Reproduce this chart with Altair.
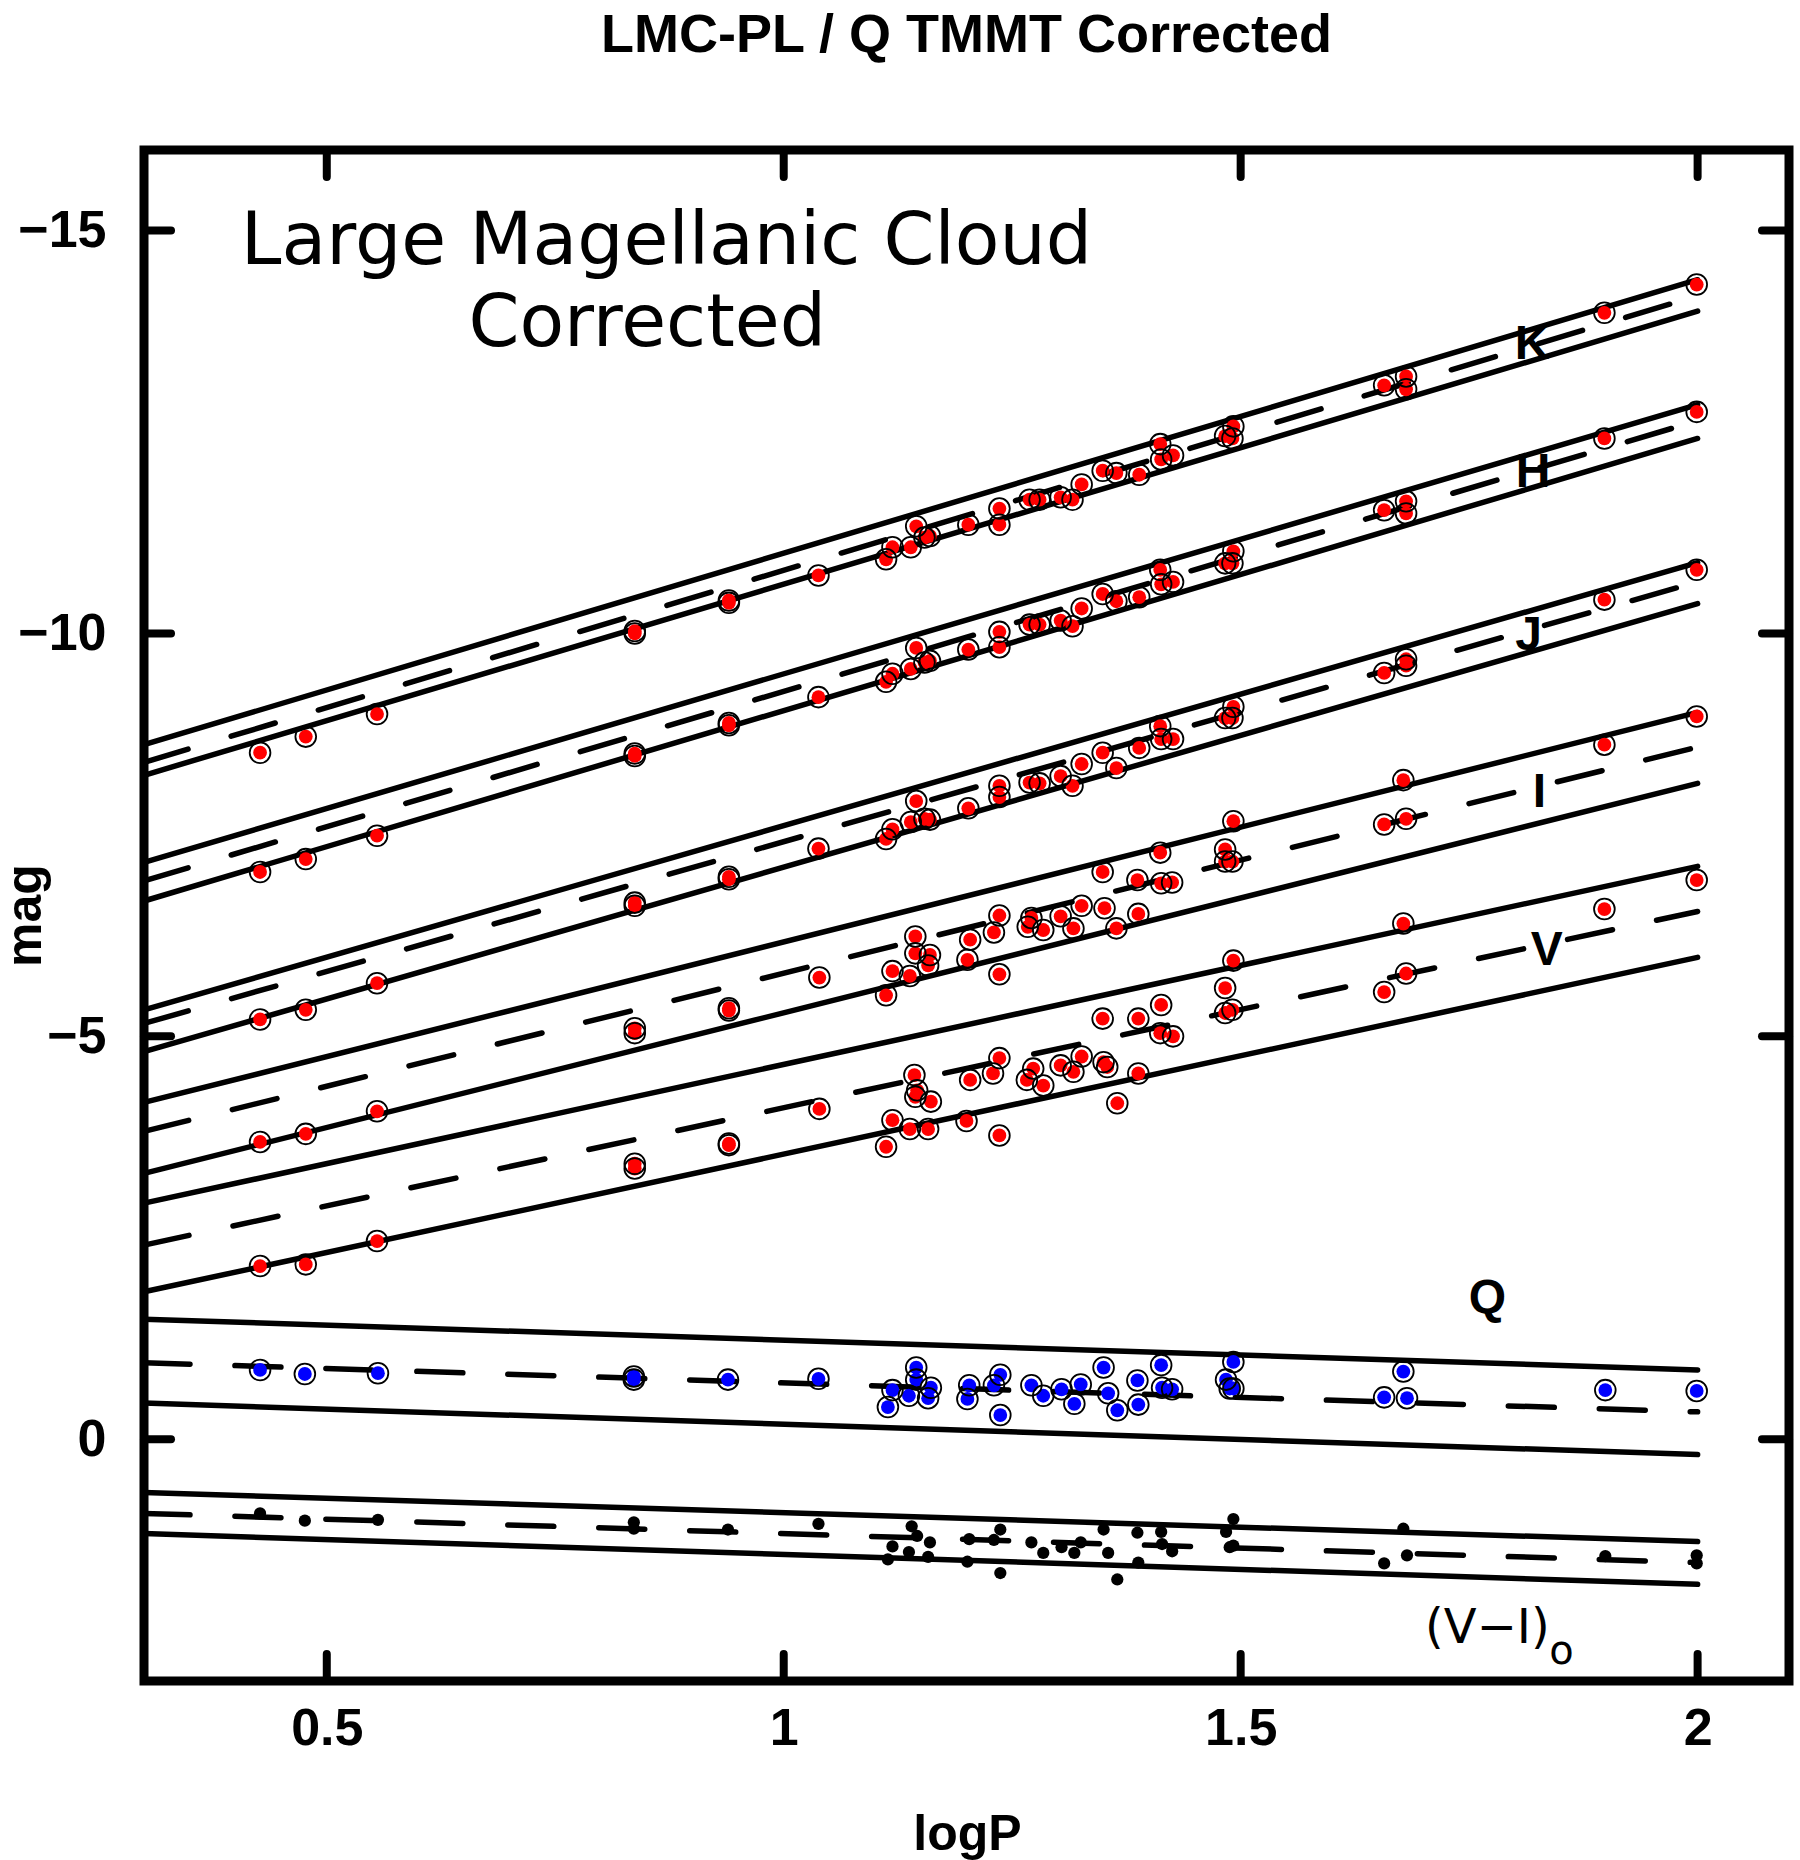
import altair as alt
import pandas as pd

# ---------------- data ----------------
TITLE = ["LMC-PL / Q TMMT Corrected"]
X_TICKS = [0.5, 1.0, 1.5, 2.0]
Y_TICKS = [-15, -10, -5, 0]
X_DOMAIN = [0.3, 2.1]
Y_DOMAIN = [-16, 3]

K_logP = [0.427, 0.477, 0.555, 0.837, 0.837, 0.940, 0.940, 1.038, 1.112, 1.119, 1.139, 1.145,
          1.154, 1.160, 1.202, 1.236, 1.236, 1.269, 1.280, 1.303, 1.316, 1.326, 1.349, 1.364,
          1.389, 1.412, 1.413, 1.426, 1.483, 1.492, 1.491, 1.657, 1.681, 1.681, 1.898, 1.999]
K_mag = [-8.52, -8.72, -9.00, -10.03, -10.00, -10.41, -10.38, -10.72, -10.92, -11.07, -11.07, -11.33,
         -11.19, -11.21, -11.35, -11.55, -11.35, -11.66, -11.66, -11.69, -11.66, -11.85, -12.02, -11.99,
         -11.97, -12.35, -12.16, -12.21, -12.45, -12.57, -12.42, -13.08, -13.19, -13.03, -13.98, -14.33]

H_logP = K_logP
H_mag = [-7.04, -7.20, -7.49, -8.51, -8.48, -8.89, -8.86, -9.21, -9.40, -9.50, -9.56, -9.82,
         -9.64, -9.66, -9.80, -10.02, -9.83, -10.11, -10.11, -10.16, -10.09, -10.31, -10.49, -10.40,
         -10.45, -10.79, -10.61, -10.64, -10.87, -11.02, -10.87, -11.53, -11.64, -11.49, -12.42, -12.75]

J_logP = K_logP
J_mag = [-5.21, -5.33, -5.66, -6.62, -6.66, -6.98, -6.95, -7.33, -7.45, -7.57, -7.66, -7.92,
         -7.70, -7.69, -7.83, -8.11, -7.97, -8.15, -8.14, -8.23, -8.11, -8.38, -8.52, -8.33,
         -8.58, -8.85, -8.69, -8.69, -8.95, -9.09, -8.95, -9.51, -9.68, -9.60, -10.42, -10.79]

I_logP = [0.427, 0.477, 0.555, 0.837, 0.837, 0.940, 0.940, 1.039, 1.112, 1.119, 1.138, 1.144,
          1.144, 1.160, 1.158, 1.201, 1.204, 1.230, 1.236, 1.236, 1.267, 1.271, 1.284, 1.303,
          1.317, 1.326, 1.351, 1.349, 1.364, 1.387, 1.388, 1.412, 1.413, 1.425, 1.483, 1.492,
          1.491, 1.483, 1.657, 1.681, 1.678, 1.898, 1.999]
I_mag = [-3.69, -3.79, -4.07, -5.04, -5.10, -5.35, -5.32, -5.73, -5.51, -5.81, -5.75, -6.24,
         -6.03, -6.01, -5.88, -5.95, -6.20, -6.29, -6.50, -5.77, -6.36, -6.47, -6.32, -6.49,
         -6.34, -6.62, -6.59, -7.04, -6.34, -6.94, -6.52, -7.28, -6.90, -6.91, -7.32, -7.67,
         -7.17, -7.17, -7.63, -7.70, -8.18, -8.62, -8.97]

V_logP = [0.427, 0.477, 0.555, 0.837, 0.837, 0.940, 0.940, 1.039, 1.112, 1.119, 1.138, 1.158,
          1.143, 1.146, 1.144, 1.161, 1.200, 1.204, 1.229, 1.236, 1.236, 1.266, 1.273, 1.284,
          1.303, 1.317, 1.326, 1.350, 1.354, 1.365, 1.388, 1.349, 1.388, 1.413, 1.412, 1.426,
          1.483, 1.492, 1.483, 1.491, 1.657, 1.681, 1.678, 1.898, 1.999]
V_mag = [-2.15, -2.17, -2.46, -3.36, -3.42, -3.65, -3.67, -4.10, -3.63, -3.96, -3.85, -3.85,
         -4.52, -4.33, -4.25, -4.19, -3.95, -4.46, -4.54, -4.73, -3.77, -4.46, -4.60, -4.39,
         -4.64, -4.56, -4.75, -4.68, -4.62, -4.17, -4.54, -5.22, -5.22, -5.39, -5.04, -5.00,
         -5.60, -5.94, -5.29, -5.33, -5.55, -5.78, -6.40, -6.58, -6.94]

Q_logP = [0.427, 0.476, 0.556, 0.836, 0.836, 0.939, 1.038, 1.114, 1.119, 1.145, 1.145, 1.137,
          1.161, 1.158, 1.201, 1.203, 1.230, 1.237, 1.237, 1.271, 1.284, 1.304, 1.318, 1.325,
          1.350, 1.355, 1.365, 1.387, 1.388, 1.413, 1.414, 1.425, 1.484, 1.488, 1.492, 1.492,
          1.657, 1.678, 1.682, 1.899, 1.999]
Q_mag = [-0.86, -0.81, -0.82, -0.78, -0.74, -0.74, -0.75, -0.40, -0.61, -0.89, -0.74, -0.54,
         -0.64, -0.51, -0.50, -0.67, -0.67, -0.80, -0.30, -0.67, -0.54, -0.62, -0.44, -0.68,
         -0.89, -0.57, -0.36, -0.73, -0.43, -0.92, -0.64, -0.62, -0.74, -0.63, -0.96, -0.63,
         -0.52, -0.84, -0.51, -0.61, -0.60]

VI_logP = [0.427, 0.476, 0.556, 0.836, 0.836, 0.939, 1.038, 1.114, 1.119, 1.140, 1.137, 1.146,
           1.160, 1.158, 1.201, 1.203, 1.230, 1.237, 1.237, 1.271, 1.284, 1.304, 1.318, 1.325,
           1.350, 1.355, 1.365, 1.387, 1.388, 1.413, 1.414, 1.425, 1.484, 1.488, 1.492, 1.492,
           1.657, 1.678, 1.682, 1.899, 1.999, 1.999]
VI_mag = [0.92, 1.01, 1.00, 1.03, 1.11, 1.12, 1.05, 1.49, 1.33, 1.08, 1.40, 1.20,
          1.28, 1.46, 1.52, 1.24, 1.25, 1.12, 1.66, 1.28, 1.41, 1.34, 1.41, 1.28,
          1.12, 1.41, 1.74, 1.16, 1.53, 1.15, 1.30, 1.39, 1.15, 1.34, 0.99, 1.32,
          1.54, 1.11, 1.44, 1.45, 1.44, 1.54]

# fitted PL relations (dashed) and their bounds (solid), evaluated at the line ends
LINE_LOGP = [0.3, 2.0]
K_UPPER, K_FIT, K_LOWER = [-8.62, -14.39], [-8.40, -14.19], [-8.24, -14.00]
H_UPPER, H_FIT, H_LOWER = [-7.16, -12.84], [-6.93, -12.64], [-6.68, -12.42]
J_UPPER, J_FIT, J_LOWER = [-5.33, -10.88], [-5.16, -10.64], [-4.81, -10.37]
I_UPPER, I_FIT, I_LOWER = [-4.18, -9.02], [-3.82, -8.59], [-3.30, -8.14]
V_UPPER, V_FIT, V_LOWER = [-2.93, -7.11], [-2.41, -6.55], [-1.83, -5.98]
Q_UPPER, Q_FIT, Q_LOWER = [-1.49, -0.86], [-0.95, -0.34], [-0.45, 0.19]
VI_UPPER, VI_FIT, VI_LOWER = [0.66, 1.27], [0.92, 1.53], [1.17, 1.80]

BAND_LABELS = ["K", "H", "J", "I", "V", "Q"]
BAND_LABEL_LOGP = [1.819, 1.820, 1.815, 1.827, 1.835, 1.770]
BAND_LABEL_MAG = [-13.41, -11.82, -9.79, -7.85, -5.89, -1.57]
COLOR_LABELS = ["(V\u2212I)"]
COLOR_LABEL_LOGP = [1.770]
COLOR_LABEL_MAG = [2.53]
SUB_LABELS = ["o"]
SUB_LABEL_LOGP = [1.851]
SUB_LABEL_MAG = [2.79]
NOTE_LINES = ["Large Magellanic Cloud", "Corrected"]
NOTE_LOGP = [0.406, 0.655]
NOTE_MAG = [-14.58, -13.57]

# ---------------- tables ----------------
def pts(xs, ys):
    return pd.DataFrame({"logP": xs, "mag": ys})

red_df = pd.concat([pts(K_logP, K_mag), pts(H_logP, H_mag), pts(J_logP, J_mag),
                    pts(I_logP, I_mag), pts(V_logP, V_mag)], ignore_index=True)
blue_df = pts(Q_logP, Q_mag)
black_df = pts(VI_logP, VI_mag)

line_sets = {
    "K": (K_UPPER, K_FIT, K_LOWER), "H": (H_UPPER, H_FIT, H_LOWER),
    "J": (J_UPPER, J_FIT, J_LOWER), "I": (I_UPPER, I_FIT, I_LOWER),
    "V": (V_UPPER, V_FIT, V_LOWER), "Q": (Q_UPPER, Q_FIT, Q_LOWER),
    "VI": (VI_UPPER, VI_FIT, VI_LOWER),
}
rows = []
for band, (up, fit, lo) in line_sets.items():
    for kind, vals in (("upper", up), ("fit", fit), ("lower", lo)):
        for x, y in zip(LINE_LOGP, vals):
            rows.append({"line": band + "_" + kind, "kind": kind, "logP": x, "mag": y})
lines_df = pd.DataFrame(rows)
solid_df = lines_df[lines_df["kind"] != "fit"]
dash_df = lines_df[lines_df["kind"] == "fit"]

# ---------------- scales / axes ----------------
W, H = 1645, 1531
FONT = "Liberation Sans"
xscale = alt.Scale(domain=X_DOMAIN, nice=False, zero=False)
yscale = alt.Scale(domain=Y_DOMAIN, nice=False, zero=False, reverse=True)
xaxis = alt.Axis(values=X_TICKS, format="~g", domain=False, ticks=False, tickSize=0, grid=False,
                 labelFont=FONT, labelFontSize=52, labelFontWeight="bold", labelColor="black",
                 labelPadding=22, labelFlush=False, labelOverlap=False, labelAngle=0,
                 title="logP", titleFont=FONT, titleFontSize=50, titleFontWeight="bold",
                 titleColor="black", titleX=823, titleY=168, titleAlign="center",
                 titleBaseline="alphabetic")
yaxis = alt.Axis(values=Y_TICKS, format="~g", domain=False, ticks=False, tickSize=0, grid=False,
                 labelFont=FONT, labelFontSize=52, labelFontWeight="bold", labelColor="black",
                 labelPadding=38, labelFlush=False, labelOverlap=False,
                 title="mag", titleFont=FONT, titleFontSize=50, titleFontWeight="bold",
                 titleColor="black", titleAngle=-90, titleX=-104, titleY=765,
                 titleAlign="center", titleBaseline="alphabetic")


def X():
    return alt.X("logP:Q", scale=xscale, axis=xaxis)


def Y():
    return alt.Y("mag:Q", scale=yscale, axis=yaxis)


solid = alt.Chart(solid_df).mark_line(color="black", strokeWidth=5.5, strokeCap="round").encode(
    x=X(), y=Y(), detail="line:N", order="logP:Q")
dashed = alt.Chart(dash_df).mark_line(color="black", strokeWidth=5.5, strokeCap="round",
                                      strokeDash=[46, 45]).encode(
    x=X(), y=Y(), detail="line:N", order="logP:Q")

RING = dict(shape="circle", filled=False, size=430, stroke="black", strokeWidth=1.8, opacity=1)
red = alt.Chart(red_df).mark_circle(size=190, color="#ff0000", opacity=1).encode(x=X(), y=Y())
red_ring = alt.Chart(red_df).mark_point(**RING).encode(x=X(), y=Y())
blue = alt.Chart(blue_df).mark_circle(size=190, color="#0000ff", opacity=1).encode(x=X(), y=Y())
blue_ring = alt.Chart(blue_df).mark_point(**RING).encode(x=X(), y=Y())
black = alt.Chart(black_df).mark_circle(size=150, color="black", opacity=1).encode(x=X(), y=Y())

band_df = pd.DataFrame({"label": BAND_LABELS, "logP": BAND_LABEL_LOGP, "mag": BAND_LABEL_MAG})
color_df = pd.DataFrame({"label": COLOR_LABELS, "logP": COLOR_LABEL_LOGP, "mag": COLOR_LABEL_MAG})
sub_df = pd.DataFrame({"label": SUB_LABELS, "logP": SUB_LABEL_LOGP, "mag": SUB_LABEL_MAG})
note_df = pd.DataFrame({"label": NOTE_LINES, "logP": NOTE_LOGP, "mag": NOTE_MAG})

band_txt = alt.Chart(band_df).mark_text(font=FONT, fontSize=48, fontWeight="bold", color="black",
                                        align="center", baseline="alphabetic").encode(
    x=X(), y=Y(), text="label:N")
color_txt = alt.Chart(color_df).mark_text(font="DejaVu Sans", fontSize=48, color="black",
                                          align="center", baseline="alphabetic").encode(
    x=X(), y=Y(), text="label:N")
sub_txt = alt.Chart(sub_df).mark_text(font="DejaVu Sans", fontSize=40, color="black",
                                      align="center", baseline="alphabetic").encode(
    x=X(), y=Y(), text="label:N")
note_txt = alt.Chart(note_df).mark_text(font="DejaVu Sans", fontSize=73, color="black",
                                        align="left", baseline="alphabetic").encode(
    x=X(), y=Y(), text="label:N")

# chart title, centred over the plot frame
title_txt = alt.Chart(pd.DataFrame({"label": TITLE})).mark_text(
    font=FONT, fontSize=54, fontWeight="bold", color="black", align="center", baseline="alphabetic"
).encode(x=alt.value(W / 2), y=alt.value(-98), text="label:N")

# inward tick marks on all four sides
TL = 27
xt_df = pd.DataFrame({"logP": X_TICKS})
yt_df = pd.DataFrame({"mag": Y_TICKS})
RULE = dict(color="black", strokeWidth=8, strokeCap="round")
tick_b = alt.Chart(xt_df).mark_rule(**RULE).encode(x=X(), y=alt.value(H), y2=alt.value(H - TL))
tick_t = alt.Chart(xt_df).mark_rule(**RULE).encode(x=X(), y=alt.value(0), y2=alt.value(TL))
tick_l = alt.Chart(yt_df).mark_rule(**RULE).encode(y=Y(), x=alt.value(0), x2=alt.value(TL))
tick_r = alt.Chart(yt_df).mark_rule(**RULE).encode(y=Y(), x=alt.value(W), x2=alt.value(W - TL))

chart = alt.layer(
    solid, dashed, red, red_ring, blue, blue_ring, black,
    band_txt, color_txt, sub_txt, note_txt, title_txt, tick_b, tick_t, tick_l, tick_r,
).properties(
    width=W, height=H,
    background="white",
    autosize=alt.AutoSizeParams(type="none"),
    padding={"left": 144, "top": 150, "right": 11, "bottom": 179},
).configure_view(
    stroke="black", strokeWidth=9
)

chart.save("out.html", embed_options={"renderer": "svg", "actions": False})
